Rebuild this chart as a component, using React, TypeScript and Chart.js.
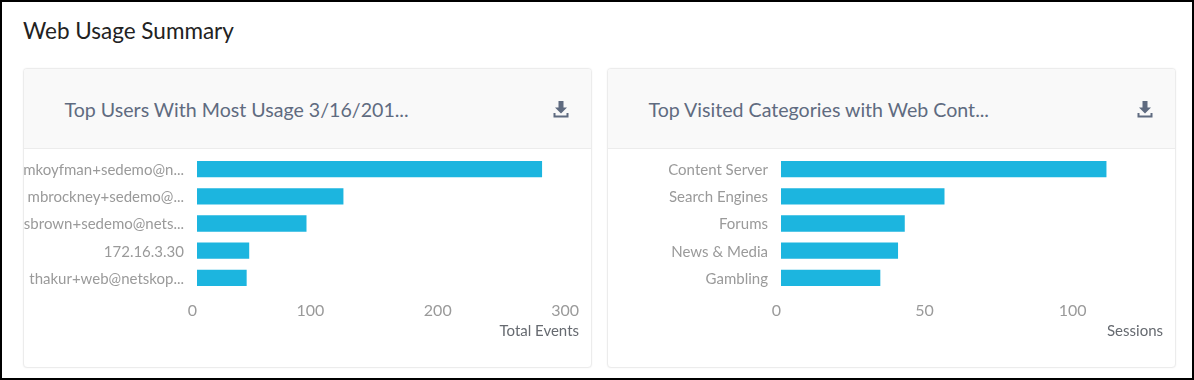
import React, { useEffect, useRef } from "react";
import { Chart, registerables } from "chart.js";

Chart.register(...registerables);

const userLabels = [
  "mkoyfman+sedemo@n...",
  "mbrockney+sedemo@...",
  "sbrown+sedemo@nets...",
  "172.16.3.30",
  "thakur+web@netskop...",
];
const userValues = [271, 115, 86, 41, 39];
const categoryLabels = ["Content Server", "Search Engines", "Forums", "News & Media", "Gambling"];
const categoryValues = [106.5, 53.5, 40.5, 38.3, 32.5];

const FONT = "Lato, 'Open Sans', sans-serif";

function BarPanel(props: {
  left: number;
  title: string;
  labels: string[];
  values: number[];
  max: number;
  step: number;
  axisTitle: string;
  seriesName: string;
}) {
  const ref = useRef<HTMLCanvasElement | null>(null);
  useEffect(() => {
    if (!ref.current) return;
    const chart = new Chart(ref.current, {
      type: "bar",
      data: {
        labels: props.labels,
        datasets: [
          {
            label: props.seriesName,
            data: props.values,
            backgroundColor: "#1cb5df",
            categoryPercentage: 1,
            barPercentage: 0.6,
          },
        ],
      },
      options: {
        indexAxis: "y",
        animation: false,
        responsive: false,
        layout: { padding: { top: 6.5, right: 11, bottom: 27, left: 0 } },
        plugins: { legend: { display: false }, tooltip: { enabled: false } },
        scales: {
          x: {
            min: 0,
            max: props.max,
            grid: { display: false, drawTicks: false },
            border: { display: false },
            afterFit: (s: any) => {
              s.height = 48.5;
              s.paddingLeft = 0;
              s.paddingRight = 0;
            },
            ticks: {
              stepSize: props.step,
              includeBounds: false,
              align: "end",
              maxRotation: 0,
              padding: 10,
              color: "#9a9a9a",
              font: { family: FONT, size: 16 },
            },
            title: {
              display: true,
              text: props.axisTitle,
              align: "end",
              color: "#666a70",
              font: { family: FONT, size: 15 },
              padding: { top: 0, bottom: 0 },
            },
          },
          y: {
            grid: { display: false, drawTicks: false },
            border: { display: false },
            afterFit: (s: any) => {
              s.width = 173;
              s.paddingTop = 0;
              s.paddingBottom = 0;
            },
            ticks: {
              padding: 13,
              labelOffset: 1,
              autoSkip: false,
              color: "#9a9a9a",
              font: { family: FONT, size: 15 },
            },
          },
        },
      },
    } as any);
    return () => chart.destroy();
  }, []);
  return (
    <div
      style={{
        position: "absolute",
        left: props.left,
        top: 68,
        width: 569,
        height: 300,
        boxSizing: "border-box",
        border: "1px solid #ececec",
        borderRadius: 4,
        overflow: "hidden",
        background: "#fff",
        boxShadow: "0 0 2px rgba(0,0,0,0.06)",
      }}
    >
      <div
        style={{
          height: 79,
          background: "#f9f9f9",
          borderBottom: "1px solid #ececec",
          position: "relative",
        }}
      >
        <div
          style={{
            position: "absolute",
            left: 40.5,
            top: 27,
            fontFamily: FONT,
            fontSize: 19.6,
            lineHeight: "28px",
            color: "#5f6b80",
            whiteSpace: "nowrap",
          }}
        >
          {props.title}
        </div>
        <svg
          style={{ position: "absolute", left: 529, top: 32 }}
          width="16"
          height="18"
          viewBox="0 0 16 18"
        >
          <path d="M5.5 0h5v6.5H14L8 12.5 2 6.5h3.5z" fill="#5f6b80" />
          <path d="M1.5 12v3.5h13V12" fill="none" stroke="#5f6b80" strokeWidth="2" />
        </svg>
      </div>
      <canvas
        ref={ref}
        width={566}
        height={218}
        style={{ display: "block", width: 566, height: 218 }}
      />
    </div>
  );
}

export default function App() {
  useEffect(() => {
    document.body.style.margin = "0";
  }, []);
  return (
    <div
      style={{
        position: "relative",
        width: 1194,
        height: 380,
        boxSizing: "border-box",
        overflow: "hidden",
        background: "#fff",
      }}
    >
      <div
        style={{
          position: "absolute",
          left: 0,
          top: 0,
          width: 1194,
          height: 380,
          boxSizing: "border-box",
          borderStyle: "solid",
          borderColor: "#000",
          borderWidth: "2px 2px 2px 2px",
        }}
      />
      <div
        style={{
          position: "absolute",
          left: 23,
          top: 15,
          fontFamily: FONT,
          fontSize: 22.5,
          lineHeight: "32px",
          color: "#222",
          whiteSpace: "nowrap",
        }}
      >
        Web Usage Summary
      </div>
      <BarPanel
        left={23}
        title="Top Users With Most Usage 3/16/201..."
        labels={userLabels}
        values={userValues}
        max={300}
        step={100}
        axisTitle="Total Events"
        seriesName="Total Events"
      />
      <BarPanel
        left={607}
        title="Top Visited Categories with Web Cont..."
        labels={categoryLabels}
        values={categoryValues}
        max={125}
        step={50}
        axisTitle="Sessions"
        seriesName="Sessions"
      />
    </div>
  );
}
